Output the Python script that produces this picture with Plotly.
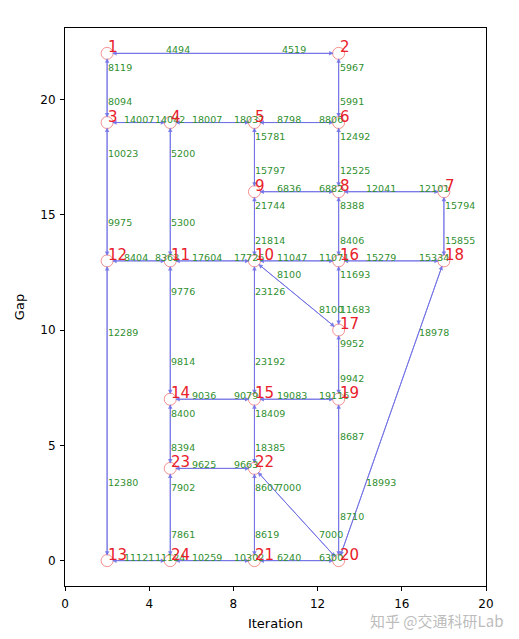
import plotly.graph_objects as go

# node coordinates (Sioux Falls network layout)
node_ids = list(range(1, 25))
node_x = [2, 13, 2, 5, 9, 13, 18, 13, 9, 9, 5, 2, 2, 5, 9, 13, 13, 18, 13, 13, 9, 9, 5, 5]
node_y = [22, 22, 19, 19, 19, 19, 16, 16, 16, 13, 13, 13, 0, 7, 7, 13, 10, 13, 7, 0, 0, 4, 4, 0]

# directed links and their flows
link_from = [1, 1, 2, 2, 3, 3, 3, 4, 4, 4, 5, 5, 5, 6, 6, 6, 7, 7, 8, 8, 8, 8, 9, 9, 9,
             10, 10, 10, 10, 10, 11, 11, 11, 11, 12, 12, 12, 13, 13, 14, 14, 14, 15, 15, 15, 15,
             16, 16, 16, 16, 17, 17, 17, 18, 18, 18, 19, 19, 19, 20, 20, 20, 20, 21, 21, 21,
             22, 22, 22, 22, 23, 23, 23, 24, 24, 24]
link_to = [2, 3, 1, 6, 1, 4, 12, 3, 5, 11, 4, 6, 9, 2, 5, 8, 8, 18, 6, 7, 9, 16, 5, 8, 10,
           9, 11, 15, 16, 17, 4, 10, 12, 14, 3, 11, 13, 12, 24, 11, 15, 23, 10, 14, 19, 22,
           8, 10, 17, 18, 10, 16, 19, 7, 16, 20, 15, 17, 20, 18, 19, 21, 22, 20, 22, 24,
           15, 20, 21, 23, 14, 22, 24, 13, 21, 23]
link_flow = [4494, 8119, 4519, 5967, 8094, 14007, 10023, 14042, 18007, 5200, 18037, 8798, 15781,
             5991, 8806, 12492, 12101, 15794, 12525, 12041, 6882, 8388, 15797, 6836, 21744,
             21814, 17726, 23126, 11047, 8100, 5300, 17604, 8363, 9776, 9975, 8404, 12289,
             12380, 11121, 9814, 9036, 8400, 23192, 9079, 19083, 18409, 8406, 11071, 11693,
             15279, 8100, 11683, 9952, 15855, 15334, 18978, 19116, 9942, 8687, 18993, 8710,
             6300, 7000, 6240, 8619, 10302, 18385, 7000, 8607, 9663, 8394, 9625, 7902,
             11124, 10259, 7861]

edge_col = "rgba(110,110,230,0.85)"
label_col = "#2f8f2f"
node_col = "rgba(235,40,40,0.5)"

fig = go.Figure()

# node circles
fig.add_trace(go.Scatter(
    x=node_x, y=node_y, mode="markers",
    marker=dict(symbol="circle-open", size=12, color=node_col, line=dict(width=1)),
    hoverinfo="skip", showlegend=False))

annotations = []
pos = {n: (x, y) for n, x, y in zip(node_ids, node_x, node_y)}

# arrows
for s, t in zip(link_from, link_to):
    xs, ys = pos[s]
    xt, yt = pos[t]
    annotations.append(dict(
        x=xt, y=yt, ax=xs, ay=ys, xref="x", yref="y", axref="x", ayref="y",
        text="", showarrow=True, arrowhead=2, arrowsize=0.9, arrowwidth=1,
        arrowcolor=edge_col, standoff=5, startstandoff=5))

# flow labels at a quarter of the way from the source
for s, t, f in zip(link_from, link_to, link_flow):
    xs, ys = pos[s]
    xt, yt = pos[t]
    annotations.append(dict(
        x=xs + 0.25 * (xt - xs), y=ys + 0.25 * (yt - ys), xref="x", yref="y",
        text=str(f), showarrow=False, xanchor="left", yanchor="bottom",
        yshift=-3, borderpad=0,
        font=dict(family="DejaVu Sans", size=9.5, color=label_col)))

# node numbers
for n, x, y in zip(node_ids, node_x, node_y):
    annotations.append(dict(
        x=x, y=y, xref="x", yref="y", text=str(n), showarrow=False,
        xanchor="left", yanchor="bottom", yshift=-4, borderpad=0,
        font=dict(family="DejaVu Sans", size=15, color="#e8202a")))

# watermark
annotations.append(dict(
    x=1.045, y=-0.061, xref="paper", yref="paper", text="知乎 @交通科研Lab",
    showarrow=False, xanchor="right", yanchor="middle",
    font=dict(family="Noto Sans CJK SC", size=15, color="rgba(170,170,170,0.8)")))

fig.update_layout(
    width=511, height=631,
    margin=dict(l=57, r=33, t=20, b=53),
    paper_bgcolor="white", plot_bgcolor="white",
    font=dict(family="DejaVu Sans", size=12, color="black"),
    annotations=annotations,
)
fig.update_xaxes(range=[0, 20], tickvals=[0, 4, 8, 12, 16, 20], showgrid=False, zeroline=False,
                 showline=True, linecolor="black", linewidth=1, mirror=True,
                 ticks="outside", ticklen=4, tickcolor="black", automargin=False,
                 ticklabelstandoff=3,
                 title=dict(text="Iteration", standoff=8, font=dict(size=13)))
fig.update_yaxes(range=[-1.1, 23.1], tickvals=[0, 5, 10, 15, 20], showgrid=False, zeroline=False,
                 showline=True, linecolor="black", linewidth=1, mirror=True,
                 ticks="outside", ticklen=4, tickcolor="black", automargin=False,
                 ticklabelstandoff=2,
                 title=dict(text="Gap", standoff=12, font=dict(size=13)))

fig.write_html("out.html")
